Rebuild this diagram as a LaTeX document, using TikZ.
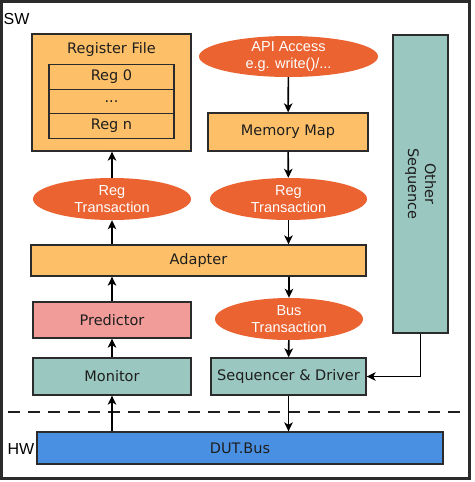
\documentclass[tikz,border=0pt]{standalone}
\usepackage{fontspec}
\setmainfont{DejaVu Sans}
\newfontfamily\ovalfont{Liberation Sans}
\usetikzlibrary{shapes.geometric,arrows.meta}
\definecolor{edge}{HTML}{2B2B2B}
\definecolor{txt}{HTML}{1E1E1E}
\definecolor{boxorange}{HTML}{FDC068}
\definecolor{ovalred}{HTML}{EA6330}
\definecolor{seqteal}{HTML}{9AC7BF}
\definecolor{predpink}{HTML}{F19C99}
\definecolor{busblue}{HTML}{4A90E2}
\newcommand{\rowdots}{...}
\begin{document}
\begin{tikzpicture}[x=1pt,y=-1pt,
        box/.style={draw=edge, line width=1.3pt, inner sep=0pt, text=txt,
                font=\fontsize{14.5}{17}\selectfont},
        oval/.style={ellipse, fill=ovalred, inner xsep=0pt, inner ysep=-8pt,
                text=white, align=center, font=\ovalfont\fontsize{14.5}{17.5}\selectfont},
        arr/.style={-{Stealth[length=9pt,width=8.5pt,inset=2.5pt]}, line width=1.6pt},
        side/.style={font=\ovalfont\fontsize{16}{18}\selectfont, text=black}]
        \useasboundingbox (0,0) rectangle (474,482);
        \draw[line width=2.5pt, color=edge] (1.25,1.25) rectangle (469.5,478.5);

        \node[side] (sw) at (16.5,18.5) {SW};
        \node[side] (hw) at (21,449) {HW};

        % register file
        \node[box, fill=boxorange, minimum width=159pt, minimum height=117pt] (regfile) at (111.5,92.5) {};
        \node[box, draw=none] (regtitle) at (111.5,49) {Register File};
        \foreach \y/\t/\n in {77/Reg 0/reg0, 101.5/\rowdots/regdots, 126/Reg n/regn} {
                \node[box, fill=boxorange, minimum width=125pt, minimum height=24.5pt] (\n) at (111.5,\y) {\t};
            }

        \node[oval, minimum width=179pt, minimum height=41pt] (api) at (288.5,56.5) {API Access\\e.g. write()/...};
        \node[box, fill=boxorange, minimum width=160pt, minimum height=38pt] (mmap) at (288,132) {Memory Map};
        \node[oval, minimum width=158pt, minimum height=42pt] (ltr) at (112,199) {Reg\\Transaction};
        \node[oval, minimum width=157pt, minimum height=42pt] (rtr) at (288.5,199) {Reg\\Transaction};
        \node[box, fill=boxorange, minimum width=335pt, minimum height=31pt] (adapter) at (198.5,260.5) {Adapter};
        \node[box, fill=predpink, minimum width=158pt, minimum height=36pt] (pred) at (112,320) {Predictor};
        \node[oval, minimum width=148pt, minimum height=42pt] (btr) at (289,319) {Bus\\Transaction};
        \node[box, fill=seqteal, minimum width=158pt, minimum height=37pt] (mon) at (112,376.5) {Monitor};
        \node[box, fill=seqteal, minimum width=155pt, minimum height=37pt] (seq) at (288.5,376.5) {Sequencer \& Driver};
        \node[box, fill=seqteal, rotate=-90, align=center, minimum width=298pt, minimum height=55pt] (other) at (420.5,184) {Other\\Sequence};
        \node[box, fill=busblue, minimum width=406pt, minimum height=32pt] (dut) at (240,448) {DUT.Bus};

        % sw / hw border
        \coordinate (cutl) at (8,412);
        \coordinate (cutr) at (466,412);
        \draw[line width=2.5pt, dash pattern=on 12pt off 8pt, color=txt] (cutl) -- (cutr);

        % down path
        \draw[arr] (api) -- (mmap);
        \draw[arr] (mmap) -- (rtr);
        \draw[arr] (rtr) -- (rtr |- adapter.north);
        \draw[arr] (adapter.south -| btr) -- (btr);
        \draw[arr] (btr) -- (seq);
        \draw[arr] (seq) -- (seq |- dut.north);
        \draw[arr] (other.east) |- (seq.east);

        % up path
        \draw[arr] (dut.north -| mon) -- (mon);
        \draw[arr] (mon) -- (pred);
        \draw[arr] (pred) -- (pred |- adapter.south);
        \draw[arr] (adapter.north -| ltr) -- (ltr);
        \draw[arr] (ltr) -- (ltr |- regfile.south);
    \end{tikzpicture}
\end{document}
